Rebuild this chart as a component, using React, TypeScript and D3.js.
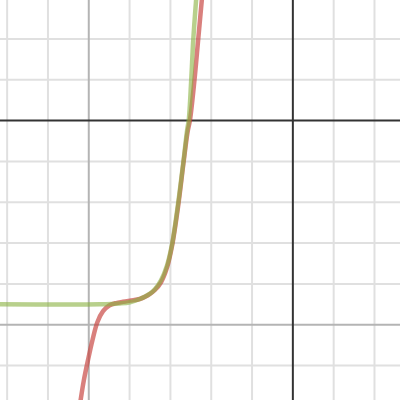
import * as d3 from 'd3'

const width = 400
const height = 400

// view window in graph units (one light grid square = 1)
const xDomain = [-7.175, 2.625]
const yDomain = [-6.845, 2.955]
const majorStep = 5

// green curve
const greenX = [-7.18, -4.73, -4.24, -3.99, -3.75, -3.62, -3.5, -3.38, -3.23, -3.08, -2.96, -2.81, -2.68, -2.59, -2.55, -2.49, -2.44, -2.37]
const greenY = [-4.5, -4.5, -4.48, -4.45, -4.37, -4.31, -4.24, -4.13, -3.91, -3.54, -3.03, -2.02, -0.99, -0.23, 0.02, 1.0, 1.98, 2.96]

// red curve
const redX = [-5.2, -5.12, -5.02, -4.91, -4.79, -4.65, -4.5, -4.33, -4.16, -3.99, -3.75, -3.55, -3.38, -3.23, -3.08, -2.96, -2.81, -2.68, -2.58, -2.52, -2.41, -2.32, -2.23]
const redY = [-6.85, -6.36, -5.87, -5.38, -4.94, -4.67, -4.53, -4.47, -4.44, -4.41, -4.37, -4.28, -4.15, -3.96, -3.59, -3.07, -2.09, -1.04, -0.28, 0.02, 1.0, 1.98, 2.96]

export default function App() {
  const x = d3.scaleLinear(xDomain, [0, width])
  const y = d3.scaleLinear(yDomain, [height, 0])

  const xLines = d3.range(Math.ceil(xDomain[0]), Math.floor(xDomain[1]) + 1)
  const yLines = d3.range(Math.ceil(yDomain[0]), Math.floor(yDomain[1]) + 1)

  const line = d3
    .line<[number, number]>()
    .x(d => x(d[0]))
    .y(d => y(d[1]))
    .curve(d3.curveCatmullRom.alpha(0.5))

  const green = d3.zip(greenX, greenY) as [number, number][]
  const red = d3.zip(redX, redY) as [number, number][]

  const kind = (v: number) => (v === 0 ? 'axis' : v % majorStep === 0 ? 'major' : 'minor')
  const gridStyle = {
    minor: { stroke: '#e0e0e0', width: 2 },
    major: { stroke: '#b4b4b4', width: 2 },
    axis: { stroke: '#333333', width: 2 }
  }
  const order = ['minor', 'major', 'axis']

  return (
    <svg
      width={width}
      height={height}
      viewBox={`0 0 ${width} ${height}`}
      style={{ position: 'fixed', left: 0, top: 0, background: '#fff' }}
    >
      {order.map(k => (
        <g key={k} stroke={gridStyle[k].stroke} strokeWidth={gridStyle[k].width}>
          {xLines
            .filter(v => kind(v) === k)
            .map(v => (
              <line key={'x' + v} x1={x(v)} x2={x(v)} y1={0} y2={height} />
            ))}
          {yLines
            .filter(v => kind(v) === k)
            .map(v => (
              <line key={'y' + v} x1={0} x2={width} y1={y(v)} y2={y(v)} />
            ))}
        </g>
      ))}
      <path
        d={line(red) ?? ''}
        fill="none"
        stroke="#c74440"
        strokeOpacity={0.68}
        strokeWidth={4.5}
        strokeLinecap="round"
        strokeLinejoin="round"
      />
      <path
        d={line(green) ?? ''}
        fill="none"
        stroke="#88b040"
        strokeOpacity={0.6}
        strokeWidth={4.5}
        strokeLinecap="round"
        strokeLinejoin="round"
      />
    </svg>
  )
}
